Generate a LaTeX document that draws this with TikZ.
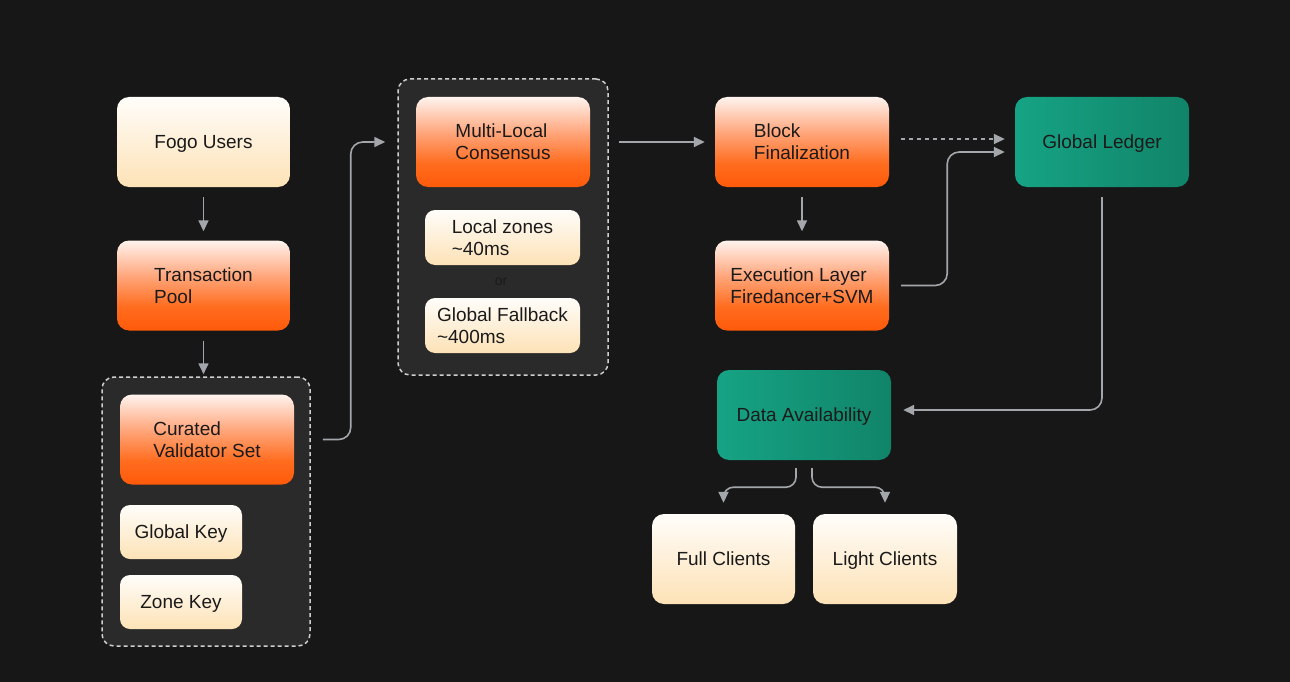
\documentclass[tikz,border=0pt]{standalone}
\usepackage{fontspec}
\setmainfont{Liberation Sans}
\usetikzlibrary{arrows.meta,calc}
\definecolor{bg}{HTML}{171717}
\definecolor{contfill}{HTML}{2A2A2A}
\definecolor{contdash}{HTML}{CFCFCF}
\definecolor{arrc}{HTML}{A3A7AB}
\definecolor{txt}{HTML}{1A1A1A}
\definecolor{orB}{HTML}{FF5A0A}
\definecolor{orM}{HTML}{FF6C1E}
\definecolor{orL}{HTML}{FFA57A}
\definecolor{orT}{HTML}{FFF3EE}
\definecolor{crB}{HTML}{FDE2B6}
\definecolor{crT}{HTML}{FFFDFA}
\definecolor{teL}{HTML}{16A385}
\definecolor{teR}{HTML}{118468}
\pgfdeclareverticalshading{orangeg}{100bp}{color(0bp)=(orB); color(25bp)=(orB); color(38bp)=(orM); color(55bp)=(orL); color(75bp)=(orT); color(100bp)=(orT)}
\pgfdeclareverticalshading{creamg}{100bp}{color(0bp)=(crB); color(25bp)=(crB); color(75bp)=(crT); color(100bp)=(crT)}
\tikzset{
  boxbase/.style={rounded corners=12pt, text=txt, align=left, inner sep=0pt, text depth=0pt,
    font=\fontsize{19}{22}\selectfont},
  orbox/.style={boxbase, shade, shading=orangeg, minimum width=174pt, minimum height=90pt},
  crbox/.style={boxbase, shade, shading=creamg},
  tealbox/.style={boxbase, left color=teL, right color=teR, minimum width=174pt, minimum height=90pt},
  contbox/.style={draw=contdash, fill=contfill, dash pattern=on 4pt off 3pt, line width=1.5pt, rounded corners=12pt, inner sep=0pt},
  arr/.style={draw=arrc, line width=1.6pt, -{Triangle[length=11pt,width=10pt]}},
  dasharr/.style={arr, dash pattern=on 4pt off 4pt},
  smalltxt/.style={text=txt, font=\fontsize{14}{16}\selectfont}
}
\begin{document}
\begin{tikzpicture}[x=1pt,y=-1pt]
\fill[bg] (0,0) rectangle (1290,682);
\useasboundingbox (0,0) rectangle (1290,682);

% containers
\node[contbox, minimum width=208pt, minimum height=269pt] (c1) at (206,511.5) {};
\node[contbox, minimum width=210pt, minimum height=296pt] (c2) at (503,227) {};

% left column
\node[crbox, minimum width=173pt, minimum height=90pt] (fogo) at (203.5,142) {Fogo Users};
\node[orbox, minimum width=173pt] (pool) at (203.5,285.5) {Transaction\\Pool};
\node[orbox] (cvs) at (207,439.5) {Curated\\Validator Set};
\node[crbox, rounded corners=10pt, minimum width=122pt, minimum height=54pt] (gkey) at (181,532) {Global Key};
\node[crbox, rounded corners=10pt, minimum width=122pt, minimum height=54pt] (zkey) at (181,602) {Zone Key};

% consensus column
\node[orbox] (mlc) at (503,142) {Multi-Local\\Consensus};
\node[crbox, rounded corners=10pt, minimum width=155pt, minimum height=55pt] (lz) at (502.5,237.5) {Local zones\\\textasciitilde40ms};
\node[smalltxt] (or) at (501,282) {or};
\node[crbox, rounded corners=10pt, minimum width=155pt, minimum height=55pt] (gf) at (502.5,325.5) {Global Fallback\\\textasciitilde400ms};

% right part
\node[orbox] (bf) at (802,142) {Block\\Finalization};
\node[orbox] (ex) at (802,285.5) {Execution Layer\\Firedancer+SVM};
\node[tealbox] (gl) at (1102,142) {Global Ledger};
\node[tealbox] (da) at (804,415) {Data Availability};
\node[crbox, minimum width=143pt, minimum height=90pt] (fc) at (723.5,559) {Full Clients};
\node[crbox, minimum width=144pt, minimum height=90pt] (lc) at (885,559) {Light Clients};

% connectors
\draw[arr] ([yshift=-10pt]fogo.south) -- ([yshift=9pt]pool.north);
\draw[arr] ([yshift=-10pt]pool.south) -- ([yshift=2pt]pool.south |- c1.north);
\coordinate (a1) at ([xshift=12pt]c1.east |- cvs.center);
\coordinate (a2) at ([xshift=-12pt]c2.west |- mlc.center);
\draw[arr, rounded corners=12pt] (a1) -- ($(a1)+(28,0)$) |- (a2);
\draw[arr] ([xshift=10pt]c2.east |- mlc.center) -- ([xshift=-10pt]bf.west);
\draw[arr] ([yshift=-10pt]bf.south) -- ([yshift=9pt]ex.north);
\draw[dasharr] ([xshift=12pt,yshift=3pt]bf.east) -- ([xshift=-10pt,yshift=3pt]gl.west);
\draw[arr, rounded corners=12pt] ([xshift=12pt]ex.east) -- ++(46,0) |- ([xshift=-10pt,yshift=-10pt]gl.west);
\draw[arr, rounded corners=12pt] ([yshift=-10pt]gl.south) |- ([xshift=12pt,yshift=5pt]da.east);
\draw[arr, rounded corners=10pt] ([xshift=-8pt,yshift=-8pt]da.south) -- ++(0,19) -| ([yshift=11pt]fc.north);
\draw[arr, rounded corners=10pt] ([xshift=8pt,yshift=-8pt]da.south) -- ++(0,19) -| ([yshift=11pt]lc.north);
\end{tikzpicture}
\end{document}
